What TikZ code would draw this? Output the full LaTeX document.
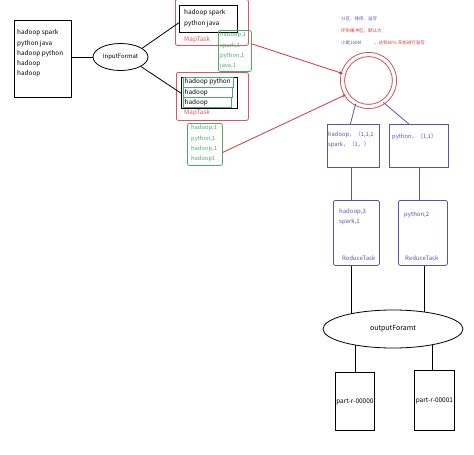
\documentclass[tikz,border=0pt]{standalone}
\usepackage{fontspec}
\setmainfont{Noto Sans CJK SC}
\usetikzlibrary{shapes.geometric,backgrounds,arrows.meta}
\definecolor{mapred}{RGB}{212,88,98}
\definecolor{kvgreen}{RGB}{80,168,110}
\definecolor{redblue}{RGB}{92,82,178}
\definecolor{bufred}{RGB}{205,55,65}
\begin{document}
\begin{tikzpicture}[x=1pt,y=-1pt,
    txt/.style={font=\fontsize{6.4}{10.3}\selectfont, align=left, inner sep=0pt},
    kvtxt/.style={txt, kvgreen, font=\fontsize{5.8}{10.3}\selectfont},
    note/.style={inner sep=0pt, anchor=west, font=\fontsize{4.5}{5}\selectfont},
    box/.style={draw, line width=0.8pt, inner sep=0pt, anchor=north west},
    taskbox/.style={box, draw=mapred, rounded corners=2pt},
    kvbox/.style={box, draw=kvgreen, rounded corners=2pt},
    linebox/.style={box, draw=kvgreen, fill=white, minimum height=10.3},
    fmt/.style={ellipse, draw, line width=0.8pt, fill=white, inner sep=0pt}]
    \useasboundingbox (0,0) rectangle (474,455);
    % input file
    \node[box, minimum width=57, minimum height=77] (inbox) at (14,20) {};
    \node[txt, anchor=north west] (intext) at (17,29.5) {hadoop spark\\python java\\hadoop python\\hadoop\\hadoop};
    \node[fmt, minimum width=55, minimum height=27, font=\fontsize{6}{7}\selectfont] (infmt) at (120.5,57) {InputFormat};
    % first map task
    \node[taskbox, minimum width=73, minimum height=46] (map1) at (175,-1) {};
    \node[box, line width=1.3pt, minimum width=58, minimum height=27] (split1) at (179,5) {};
    \node[txt, anchor=north west] (split1txt) at (184,9.5) {hadoop spark\\python java};
    \node[txt, mapred, anchor=west] (map1lab) at (184,40) {MapTask};
    \node[kvbox, minimum width=33, minimum height=41] (kv1) at (218,30) {};
    \node[kvtxt, anchor=north west] (kv1txt) at (220,32) {hadoop,1\\spark,1\\python,1\\java,1};
    % second map task
    \node[taskbox, minimum width=72, minimum height=48] (map2) at (176,72) {};
    \node[box, line width=1.3pt, minimum width=56, minimum height=31] (split2) at (181,77) {};
    \node[linebox, minimum width=50] (line1) at (183,76.5) {};
    \node[linebox, minimum width=49] (line2) at (183,86.8) {};
    \node[linebox, minimum width=48] (line3) at (183,97.1) {};
    \node[txt, anchor=west] (line1txt) at ([xshift=1.5]line1.west) {hadoop python};
    \node[txt, anchor=west] (line2txt) at ([xshift=1.5]line2.west) {hadoop};
    \node[txt, anchor=west] (line3txt) at ([xshift=1.5]line3.west) {hadoop};
    \node[txt, mapred, anchor=west] (map2lab) at (184,113) {MapTask};
    \node[kvbox, minimum width=35, minimum height=42] (kv2) at (187,123) {};
    \node[kvtxt, anchor=north west] (kv2txt) at (191,125) {hadoop,1\\python,1\\hadoop,1\\hadoop1};
    % ring buffer
    \node[note, redblue] (note1) at (341,19) {分区、排序、溢写};
    \node[note, bufred] (note2) at (341,31) {环形缓冲区，默认大};
    \node[note, redblue] (note3) at (341,43) {小是100M};
    \node[note, bufred] (note4) at (374,43) {，达到80\% 开始进行溢写};
    \node[circle, draw=bufred, double=white, double distance=3.4pt, line width=0.8pt,
          minimum size=52pt, inner sep=0pt] (buf) at (368.5,80.5) {};
    % grouped keys
    \node[box, draw=redblue, minimum width=52, minimum height=43] (grp1) at (327,124) {};
    \node[txt, redblue, anchor=north west, font=\fontsize{5.8}{10.3}\selectfont] (grp1txt) at (328,131.5) {hadoop，（1,1,1\\spark，（1，）};
    \node[box, draw=redblue, minimum width=59, minimum height=43] (grp2) at (389,124) {};
    \node[txt, redblue, anchor=north west, font=\fontsize{5.8}{10.3}\selectfont] (grp2txt) at (392,133.5) {python，（1,1）};
    % reduce tasks
    \node[box, draw=redblue, rounded corners=2pt, minimum width=46, minimum height=65] (red1) at (333,200) {};
    \node[txt, redblue, anchor=north west, font=\fontsize{6}{10.3}\selectfont] (red1txt) at (339,208.5) {hadoop,3\\spark,1};
    \node[txt, redblue, anchor=west, font=\fontsize{6}{7}\selectfont] (red1lab) at (342,258) {ReduceTask};
    \node[box, draw=redblue, rounded corners=2pt, minimum width=49, minimum height=65] (red2) at (398,200) {};
    \node[txt, redblue, anchor=north west, font=\fontsize{6}{10.3}\selectfont] (red2txt) at (404,211.5) {python,2};
    \node[txt, redblue, anchor=west, font=\fontsize{6}{7}\selectfont] (red2lab) at (405,258) {ReduceTask};
    % output
    \node[fmt, minimum width=140, minimum height=38, font=\fontsize{7}{8}\selectfont] (outfmt) at (393,329) {outputForamt};
    \node[box, minimum width=39, minimum height=58] (part1) at (335,372) {};
    \node[font=\fontsize{6.5}{7}\selectfont, inner sep=0pt] (part1txt) at (part1.center) {part-r-00000};
    \node[box, minimum width=40, minimum height=60] (part2) at (414,370) {};
    \node[font=\fontsize{6.5}{7}\selectfont, inner sep=0pt] (part2txt) at (part2.center) {part-r-00001};
    % connectors
    \draw[line width=0.8pt] (inbox.east |- infmt.west) -- (infmt.west);
    \draw[line width=0.8pt] (infmt.22) -- ([yshift=-3.5]split1.west);
    \draw[line width=0.8pt] (infmt.-25) -- (split2.west);
    \draw[bufred, line width=0.8pt, -{Stealth[length=4pt,width=3pt]}] ([yshift=7]kv1.east) -- (buf.165);
    \draw[bufred, line width=0.8pt, -{Stealth[length=4pt,width=3pt]}] ([yshift=-8]kv2.east) -- (buf.212);
    \draw[redblue, line width=0.8pt] (buf.241) -- ([xshift=-3]grp1.north);
    \draw[redblue, line width=0.8pt] (buf.304) -- ([xshift=-10]grp2.north);
    \draw[redblue, line width=0.8pt] ([xshift=-2]grp1.south) -- ([xshift=-2]grp1.south |- red1.north);
    \draw[redblue, line width=0.8pt] (grp2.south) -- (grp2.south |- red2.north);
    \begin{pgfonlayer}{background}
        \draw[line width=0.8pt] ([xshift=-5]red1.south) -- ([xshift=-5]red1.south |- outfmt.center);
        \draw[line width=0.8pt] ([xshift=1.5]red2.south) -- ([xshift=1.5]red2.south |- outfmt.center);
        \draw[line width=0.8pt] (part1.north) -- (part1.north |- outfmt.center);
        \draw[line width=0.8pt] ([xshift=-2]part2.north) -- ([xshift=-2]part2.north |- outfmt.center);
    \end{pgfonlayer}
\end{tikzpicture}
\end{document}
